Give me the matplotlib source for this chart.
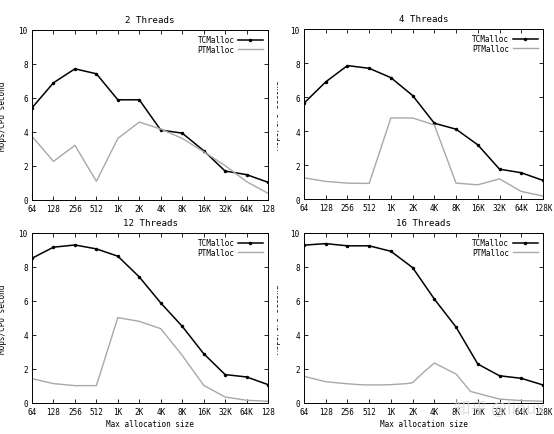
import matplotlib
matplotlib.use('Agg')
import matplotlib.pyplot as plt
from matplotlib.transforms import Bbox

plt.rcParams['font.family'] = ['DejaVu Sans Mono']
plt.rcParams['font.size'] = 5.5

# allocation sizes (bytes)
sizes = [64, 128, 256, 512, 1024, 2048, 4096, 8192, 16384, 32768, 65536, 131072]
size_labels = ['64', '128', '256', '512', '1K', '2K', '4K', '8K', '16K', '32K', '64K', '128K']

tc_2 = [5.42, 6.89, 7.71, 7.42, 5.89, 5.89, 4.11, 3.93, 2.90, 1.70, 1.49, 1.04]
pt_2 = [3.74, 2.27, 3.21, 1.10, 3.62, 4.58, 4.17, 3.62, 2.84, 2.02, 1.08, 0.39]

tc_4 = [5.64, 6.89, 7.85, 7.69, 7.14, 6.09, 4.46, 4.11, 3.19, 1.76, 1.55, 1.10]
pt_4 = [1.25, 1.04, 0.94, 0.92, 4.77, 4.77, 4.36, 0.94, 0.84, 1.19, 0.45, 0.18]

tc_12 = [8.51, 9.16, 9.29, 9.06, 8.63, 7.41, 5.88, 4.51, 2.90, 1.67, 1.53, 1.08]
pt_12 = [1.43, 1.14, 1.02, 1.02, 5.02, 4.80, 4.37, 2.80, 1.04, 0.35, 0.16, 0.10]

tc_16 = [9.28, 9.37, 9.24, 9.24, 8.92, 7.96, 6.11, 4.46, 2.29, 1.60, 1.45, 1.06]
# 16 threads PTMalloc has extra sample points
pt_16_sizes = [64, 128, 256, 362, 512, 724, 1024, 1448, 1800, 2048, 2896, 4096, 8192,
               13000, 19000, 32768, 65536, 131072]
pt_16 = [1.57, 1.25, 1.13, 1.08, 1.06, 1.06, 1.08, 1.12, 1.15, 1.20, 1.80, 2.35, 1.70,
         0.68, 0.49, 0.23, 0.14, 0.10]

panels = [
    ('2 Threads', [0.0578, 0.538, 0.426, 0.391], sizes, tc_2, sizes, pt_2, False),
    ('4 Threads', [0.5487, 0.540, 0.4314, 0.391], sizes, tc_4, sizes, pt_4, False),
    ('12 Threads', [0.0578, 0.0713, 0.426, 0.391], sizes, tc_12, sizes, pt_12, True),
    ('16 Threads', [0.5487, 0.0713, 0.4314, 0.391], sizes, tc_16, pt_16_sizes, pt_16, True),
]

fig = plt.figure(figsize=(5.54, 4.35), dpi=100)

for title, rect, xs_tc, tc, xs_pt, pt, bottom in panels:
    ax = fig.add_axes(rect)
    ax.plot(xs_tc, tc, color='black', lw=1.1, marker='.', ms=3, label='TCMalloc')
    ax.plot(xs_pt, pt, color='#a8a8a8', lw=1.0, label='PTMalloc')
    ax.set_xscale('log', base=2)
    ax.set_xlim(64, 131072)
    ax.set_ylim(0, 10)
    ax.set_xticks(sizes)
    labels = list(size_labels)
    if rect[0] < 0.3:
        labels[-1] = '128'  # cut off in the source image
    ax.set_xticklabels(labels)
    ax.minorticks_off()
    ax.set_yticks([0, 2, 4, 6, 8, 10])
    ax.tick_params(direction='in', top=True, right=True, length=3, width=0.6, pad=3)
    for s in ax.spines.values():
        s.set_linewidth(0.7)
    ax.set_title(title, pad=6)
    leg = ax.legend(loc='upper right', frameon=False, markerfirst=False,
                    handlelength=3.2, borderaxespad=0.3, labelspacing=0.1,
                    handletextpad=0.5)
    if bottom:
        ax.set_xlabel('Max allocation size', labelpad=2)
    if rect[0] < 0.3:
        ax.set_ylabel('Mops/CPU second', labelpad=8)
    else:
        # ylabel of right panels is cut off by the image seam
        t = fig.text(276.5 / 554, rect[1] + rect[3] / 2, 'Mops/CPU second',
                     rotation=90, ha='center', va='center')
        t.set_clip_box(Bbox.from_bounds(277, 0, 300, 435))
        t.set_clip_on(True)

fig.text(0.82, 0.04, '知乎 @linux', fontsize=12, color='#d8d8d8', alpha=0.8,
         family=['Noto Sans CJK SC', 'DejaVu Sans'], ha='left', va='bottom')

fig.savefig('out.png', dpi=100)
